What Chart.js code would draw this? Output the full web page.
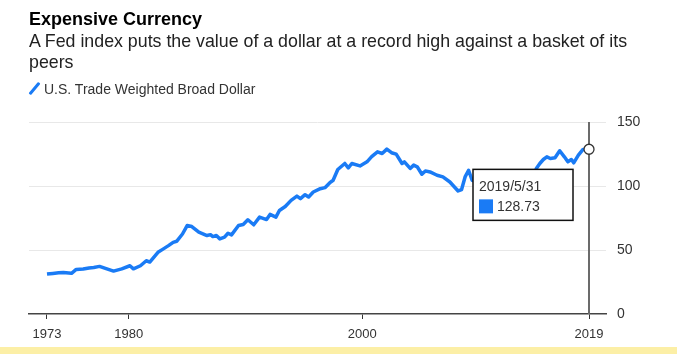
<!DOCTYPE html>
<html>
<head>
<meta charset="utf-8">
<script src="https://cdn.jsdelivr.net/npm/chart.js@4"></script>
<style>
  body { margin: 0; background: #fff; font-family: "Liberation Sans", Arial, sans-serif; }
  .wrap { position: relative; width: 677px; height: 354px; overflow: hidden; }
  #grafico { position: absolute; left: 0; top: 0; }
  .titulo { position: absolute; left: 29px; top: 9px; font-size: 18px; font-weight: bold; color: #000; }
  .sub { position: absolute; left: 29px; top: 31px; width: 625px; font-size: 17.8px; line-height: 21px; color: #222; }
  .leyenda { position: absolute; left: 29px; top: 81px; font-size: 14px; color: #333; }
  .leyenda i { display: inline-block; width: 3px; height: 15px; background: #1a7bf5; transform: rotate(40deg); margin: 0 8px -2px 4px; border-radius: 1px; }
  .banda { position: absolute; left: 0; top: 347px; width: 677px; height: 7px; background: #fcefa6; }
</style>
</head>
<body>
<div class="wrap">
  <canvas id="grafico" width="677" height="354"></canvas>
  <div class="titulo">Expensive Currency</div>
  <div class="sub">A Fed index puts the value of a dollar at a record high against a basket of its peers</div>
  <div class="leyenda"><i></i>U.S. Trade Weighted Broad Dollar</div>
  <div class="banda"></div>
</div>
<script>
const serieNombre = 'U.S. Trade Weighted Broad Dollar'

// decimal years
const anios = [
  1973.0, 1973.5, 1974.0, 1974.4, 1975.1, 1975.5, 1976.1, 1976.6, 1977.0, 1977.5,
  1978.0, 1978.7, 1979.4, 1980.1, 1980.4, 1981.0, 1981.5, 1981.8, 1982.5, 1982.9,
  1983.4, 1983.8, 1984.1, 1984.6, 1985.0, 1985.4, 1986.0, 1986.7, 1987.0, 1987.2,
  1987.5, 1987.8, 1988.2, 1988.5, 1988.8, 1989.4, 1989.8, 1990.2, 1990.7, 1991.2,
  1991.8, 1992.1, 1992.6, 1992.9, 1993.4, 1993.9, 1994.4, 1994.7, 1995.1, 1995.4,
  1995.8, 1996.4, 1996.8, 1997.2, 1997.5, 1997.9, 1998.5, 1998.8, 1999.1, 1999.8,
  2000.4, 2000.8, 2001.3, 2001.7, 2002.1, 2002.5, 2002.9, 2003.4, 2003.6, 2004.1,
  2004.4, 2004.7, 2005.1, 2005.4, 2005.8, 2006.4, 2006.9, 2007.5, 2008.2, 2008.5,
  2008.8, 2009.1, 2009.4, 2010.0, 2010.5, 2011.0, 2011.5, 2012.0, 2012.5, 2013.0,
  2013.5, 2014.0, 2014.5, 2014.9, 2015.2, 2015.5, 2015.8, 2016.1, 2016.5, 2016.9,
  2017.3, 2017.6, 2017.9, 2018.1, 2018.5, 2018.9, 2019.41
]

const valores = [
  31.2, 31.7, 32.3, 32.5, 31.8, 34.8, 35.1, 36.0, 36.4, 37.2,
  35.6, 33.5, 35.3, 37.7, 35.3, 37.7, 41.6, 40.6, 48.2, 50.5,
  53.4, 56.0, 56.8, 62.5, 69.1, 68.3, 63.9, 61.3, 62.0, 60.5,
  61.3, 58.7, 60.0, 63.1, 61.8, 69.1, 69.9, 73.6, 69.7, 75.7,
  73.8, 77.8, 75.7, 80.9, 84.0, 88.8, 92.1, 90.1, 93.2, 91.4,
  95.3, 97.9, 98.7, 102.4, 104.5, 112.9, 117.6, 114.1, 117.6, 115.7,
  118.9, 122.9, 126.7, 125.4, 128.8, 126.0, 124.9, 117.6, 118.9, 113.7,
  116.3, 115.0, 109.2, 111.8, 111.0, 108.4, 107.1, 103.1, 96.1, 97.2,
  107.1, 112.3, 104.5, 103.0, 106.0, 100.0, 95.0, 99.0, 101.0, 99.0,
  102.0, 103.0, 102.0, 113.7, 117.6, 120.7, 122.8, 121.5, 122.0, 127.5,
  122.8, 118.9, 120.7, 118.1, 124.1, 128.6, 128.73
]

const ticksX = [1973, 1980, 2000, 2019.41]
const ticksY = [0, 50, 100, 150]
const fechaTooltip = '2019/5/31'

const azul = '#1a7bf5'
const ultimo = anios.length - 1

const cruz = {
  id: 'cruz',
  beforeDatasetsDraw(chart) {
    const { ctx, chartArea, scales } = chart
    const x = scales.x.getPixelForValue(anios[ultimo])
    ctx.save()
    ctx.strokeStyle = '#6b6b6b'
    ctx.lineWidth = 2
    ctx.beginPath()
    ctx.moveTo(x, chartArea.top)
    ctx.lineTo(x, chartArea.bottom)
    ctx.stroke()
    ctx.restore()
  },
  afterDatasetsDraw(chart) {
    const { ctx, scales } = chart
    const x = scales.x.getPixelForValue(anios[ultimo]) - 116
    const y = scales.y.getPixelForValue(113)
    ctx.save()
    ctx.fillStyle = '#fff'
    ctx.fillRect(x, y, 100, 51)
    ctx.strokeStyle = '#111'
    ctx.lineWidth = 1.5
    ctx.strokeRect(x, y, 100, 51)
    ctx.fillStyle = '#333'
    ctx.font = '14px "Liberation Sans", Arial, sans-serif'
    ctx.textBaseline = 'alphabetic'
    ctx.fillText(fechaTooltip, x + 6, y + 22)
    ctx.fillStyle = azul
    ctx.fillRect(x + 6, y + 30, 14, 14)
    ctx.fillStyle = '#333'
    ctx.fillText(valores[ultimo].toFixed(2), x + 24, y + 42)
    ctx.restore()
  }
}

const config = {
  type: 'line',
  data: {
    datasets: [{
      label: serieNombre,
      data: anios.map((a, i) => ({ x: a, y: valores[i] })),
      borderColor: azul,
      borderWidth: 3.5,
      tension: 0,
      borderJoinStyle: 'round',
      pointRadius: anios.map((a, i) => i === ultimo ? 5 : 0),
      pointBackgroundColor: '#fff',
      pointBorderColor: '#333',
      pointBorderWidth: 1.3
    }]
  },
  options: {
    responsive: false,
    animation: false,
    devicePixelRatio: 1,
    layout: { padding: { top: 122, left: 29, right: 0, bottom: 0 } },
    plugins: { legend: { display: false }, tooltip: { enabled: false } },
    scales: {
      x: {
        type: 'linear',
        min: 1973 - 18 / 11.68,
        max: 2019.41 + 17 / 11.68,
        afterBuildTicks: (s) => { s.ticks = ticksX.map((v) => ({ value: v })) },
        afterFit: (s) => { s.height = 40 },
        grid: { drawOnChartArea: false, drawTicks: true, tickLength: 5, color: '#333', lineWidth: 1 },
        border: { display: true, color: '#444', width: 1.5 },
        ticks: {
          autoSkip: false,
          maxRotation: 0,
          padding: 8,
          color: '#333',
          font: { size: 13, family: '"Liberation Sans", Arial, sans-serif' },
          callback: (v) => String(Math.floor(v))
        }
      },
      y: {
        position: 'right',
        min: 0,
        max: 150,
        afterBuildTicks: (s) => { s.ticks = ticksY.map((v) => ({ value: v })) },
        afterFit: (s) => { s.width = 71 },
        grid: {
          drawTicks: false,
          color: (c) => c.tick && c.tick.value === 0 ? 'rgba(0,0,0,0)' : '#e8e8e8',
          lineWidth: 1
        },
        border: { display: false },
        ticks: {
          padding: 11,
          color: '#333',
          font: { size: 14, family: '"Liberation Sans", Arial, sans-serif' }
        }
      }
    }
  },
  plugins: [cruz]
}

const chart = new Chart(document.querySelector('#grafico'), config)
</script>
</body>
</html>
